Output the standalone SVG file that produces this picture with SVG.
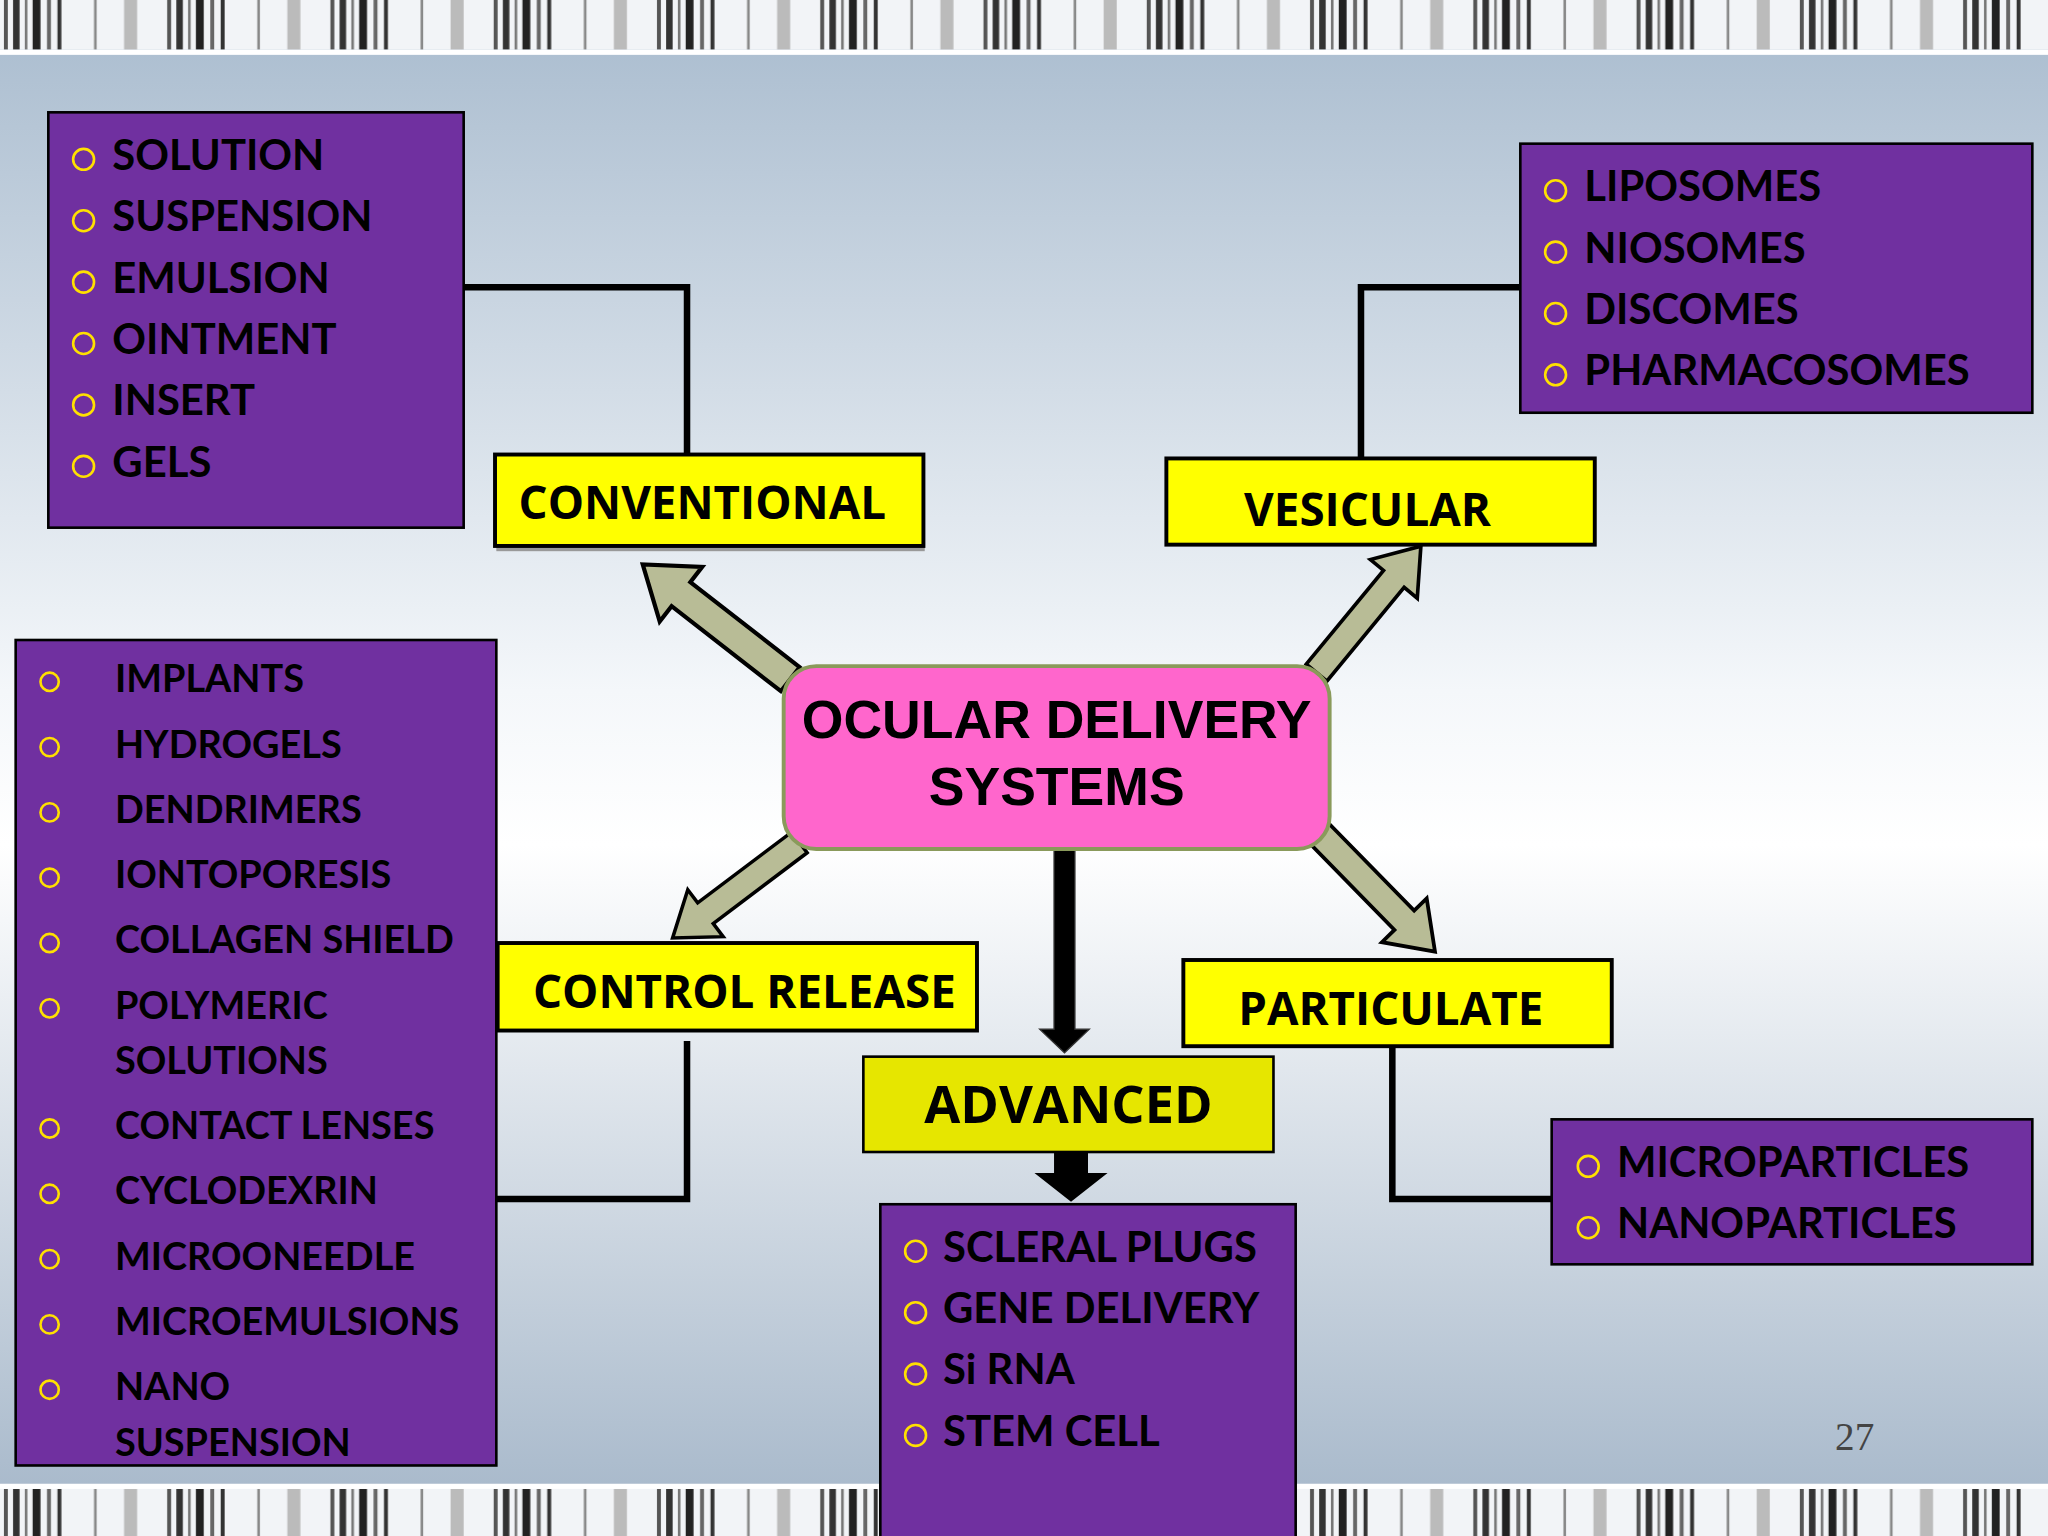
<svg xmlns="http://www.w3.org/2000/svg" width="2048" height="1536" viewBox="0 0 2048 1536">
<defs>
<linearGradient id="bg" x1="0" y1="0" x2="0" y2="1">
<stop offset="0" stop-color="#A8BBCE"/><stop offset="0.45" stop-color="#F4F7FA"/><stop offset="0.55" stop-color="#FFFFFF"/><stop offset="1" stop-color="#A3B5C8"/>
</linearGradient>
<pattern id="bars" x="0" y="0" width="125" height="40" patternUnits="userSpaceOnUse">
<rect width="125" height="40" fill="#F2F4F7"/>
<rect x="3" y="0" width="3" height="40" fill="#555"/>
<rect x="10" y="0" width="5" height="40" fill="#333"/>
<rect x="19" y="0" width="2" height="40" fill="#777"/>
<rect x="25" y="0" width="6" height="40" fill="#222"/>
<rect x="36" y="0" width="3" height="40" fill="#666"/>
<rect x="44" y="0" width="3" height="40" fill="#333"/>
<rect x="72" y="0" width="2" height="40" fill="#888"/>
<rect x="95" y="0" width="10" height="40" fill="#BBB"/>
</pattern>
<style>
.lst{fill:#7030A0;stroke:#000;stroke-width:2}
.lt{font-family:Lato,"Open Sans",sans-serif;font-weight:bold;font-size:32px;fill:#000}
.bul{fill:none;stroke:#FFE000;stroke-width:2}
.yb{fill:#FFFF00;stroke:#000;stroke-width:3}
.yt{font-family:"Open Sans",Lato,sans-serif;font-weight:bold;font-size:35px;fill:#000}
.ct{font-family:"Liberation Sans",Arial,sans-serif;font-weight:bold;font-size:41px;fill:#000}
.con{fill:none;stroke:#000;stroke-width:5}
.arr{fill:#B8BC96;stroke:#000;stroke-width:3;stroke-linejoin:miter}
</style>
<path id="ar" d="M0,-11 L-100,-11 L-100,-25 L-135,0 L-100,25 L-100,11 L0,11Z" transform="scale(-1,1)"/>
</defs>
<g transform="scale(1.306122)">
<rect width="1568" height="1176" fill="url(#bg)"/>
<rect x="0" y="0" width="1568" height="38" fill="url(#bars)"/>
<rect x="0" y="38" width="1568" height="4" fill="#FFFFFF"/>
<rect x="0" y="1140" width="1568" height="36" fill="url(#bars)"/>
<rect x="0" y="1136" width="1568" height="4" fill="#FFFFFF"/>

<g id="connectors">
<polyline class="con" points="355,220 526,220 526,350"/>
<polyline class="con" points="1163,220 1042,220 1042,351"/>
<polyline class="con" points="526,797 526,918 380,918"/>
<polyline class="con" points="1066,800 1066,918 1188,918"/>
<use href="#ar" class="arr" transform="translate(605,520) rotate(217.9) scale(1.06)"/>
<use href="#ar" class="arr" transform="translate(1008,515) rotate(-50.5) scale(0.93)"/>
<use href="#ar" class="arr" transform="translate(612,645) rotate(143) scale(0.9)"/>
<use href="#ar" class="arr" transform="translate(1008,636) rotate(45.6) scale(0.96)"/>
<path d="M807,650 L823,650 L823,788 L834,788 L815,806 L796,788 L807,788Z" fill="#000" stroke="#333" stroke-width="1"/>
<path d="M807,882 L833,882 L833,898 L848,898 L820,920 L792,898 L807,898Z" fill="#000"/>
</g>

<g id="center">
<rect x="600" y="510" width="418" height="140" rx="25" fill="#FF66CC" stroke="#8A9A5B" stroke-width="3"/>
<text x="809" y="565" text-anchor="middle" class="ct">OCULAR DELIVERY</text>
<text x="809" y="616" text-anchor="middle" class="ct">SYSTEMS</text>
</g>

<g id="conventional">
<rect x="380" y="352" width="328" height="70" fill="#999"/>
<rect class="yb" x="379" y="348" width="328" height="70"/>
<text class="yt" x="397" y="397">CONVENTIONAL</text>
</g>
<g id="vesicular">
<rect class="yb" x="893" y="351" width="328" height="66"/>
<text class="yt" x="1047" y="403" text-anchor="middle">VESICULAR</text>
</g>
<g id="control">
<rect class="yb" x="381" y="722" width="367" height="67"/>
<text class="yt" x="408" y="772">CONTROL RELEASE</text>
</g>
<g id="particulate">
<rect class="yb" x="906" y="735" width="328" height="66"/>
<text class="yt" x="948" y="785">PARTICULATE</text>
</g>
<g id="advanced">
<rect x="661" y="809" width="314" height="73" fill="#E6E600" stroke="#000" stroke-width="2"/>
<text class="yt" x="818" y="860" text-anchor="middle" style="font-size:40px">ADVANCED</text>
</g>

<g id="list-conventional">
<rect class="lst" x="37" y="86" width="318" height="318"/>
<g class="lt">
<text x="86" y="130">SOLUTION</text><text x="86" y="177">SUSPENSION</text><text x="86" y="224">EMULSION</text>
<text x="86" y="271">OINTMENT</text><text x="86" y="318">INSERT</text><text x="86" y="365">GELS</text>
</g>
<g class="bul"><circle cx="64" cy="122" r="8"/><circle cx="64" cy="169" r="8"/><circle cx="64" cy="216" r="8"/><circle cx="64" cy="263" r="8"/><circle cx="64" cy="310" r="8"/><circle cx="64" cy="357" r="8"/></g>
</g>

<g id="list-vesicular">
<rect class="lst" x="1164" y="110" width="392" height="206"/>
<g class="lt">
<text x="1213" y="154">LIPOSOMES</text><text x="1213" y="201">NIOSOMES</text><text x="1213" y="248">DISCOMES</text><text x="1213" y="295">PHARMACOSOMES</text>
</g>
<g class="bul"><circle cx="1191" cy="146" r="8"/><circle cx="1191" cy="193" r="8"/><circle cx="1191" cy="240" r="8"/><circle cx="1191" cy="287" r="8"/></g>
</g>

<g id="list-control">
<rect class="lst" x="12" y="490" width="368" height="632"/>
<g class="lt" style="font-size:29px">
<text x="88" y="530">IMPLANTS</text><text x="88" y="580">HYDROGELS</text><text x="88" y="630">DENDRIMERS</text>
<text x="88" y="680">IONTOPORESIS</text><text x="88" y="730">COLLAGEN SHIELD</text>
<text x="88" y="780">POLYMERIC</text><text x="88" y="822">SOLUTIONS</text>
<text x="88" y="872">CONTACT LENSES</text><text x="88" y="922">CYCLODEXRIN</text><text x="88" y="972">MICROONEEDLE</text>
<text x="88" y="1022">MICROEMULSIONS</text><text x="88" y="1072">NANO</text><text x="88" y="1115">SUSPENSION</text>
</g>
<g class="bul"><circle cx="38" cy="522" r="7"/><circle cx="38" cy="572" r="7"/><circle cx="38" cy="622" r="7"/><circle cx="38" cy="672" r="7"/><circle cx="38" cy="722" r="7"/><circle cx="38" cy="772" r="7"/><circle cx="38" cy="864" r="7"/><circle cx="38" cy="914" r="7"/><circle cx="38" cy="964" r="7"/><circle cx="38" cy="1014" r="7"/><circle cx="38" cy="1064" r="7"/></g>
</g>

<g id="list-particulate">
<rect class="lst" x="1188" y="857" width="368" height="111"/>
<g class="lt"><text x="1238" y="901">MICROPARTICLES</text><text x="1238" y="948">NANOPARTICLES</text></g>
<g class="bul"><circle cx="1216" cy="893" r="8"/><circle cx="1216" cy="940" r="8"/></g>
</g>

<g id="list-advanced">
<rect class="lst" x="674" y="922" width="318" height="260"/>
<g class="lt"><text x="722" y="966">SCLERAL PLUGS</text><text x="722" y="1013">GENE DELIVERY</text><text x="722" y="1060">Si RNA</text><text x="722" y="1107">STEM CELL</text></g>
<g class="bul"><circle cx="701" cy="958" r="8"/><circle cx="701" cy="1005" r="8"/><circle cx="701" cy="1052" r="8"/><circle cx="701" cy="1099" r="8"/></g>
</g>

<text x="1405" y="1110" font-family="Liberation Serif,serif" font-size="30" fill="#444">27</text>
</g>
</svg>
